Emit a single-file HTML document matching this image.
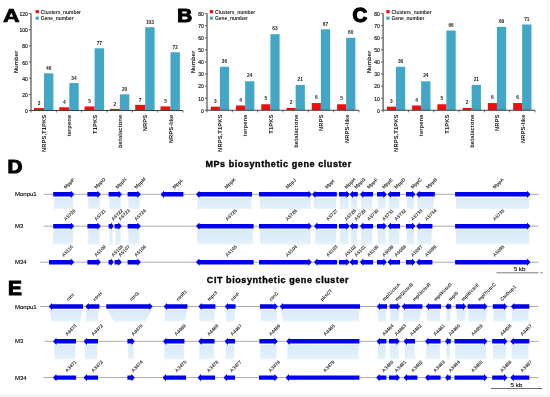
<!DOCTYPE html>
<html><head><meta charset="utf-8"><title>Figure</title>
<style>
html,body{margin:0;padding:0;background:#fff;}
svg{display:block;}
text{font-family:'Liberation Sans', Arial, sans-serif;}
.big{font-size:19.2px;font-weight:bold;fill:#000;stroke:#000;stroke-width:1.1px;}
.leg{font-size:4.9px;fill:#1a1a1a;font-weight:bold;}
.val{font-size:4.8px;fill:#1a1a1a;text-anchor:middle;font-weight:bold;}
.tick{font-size:5px;fill:#111;text-anchor:end;stroke:#111;stroke-width:0.15px;}
.cat{font-size:5.8px;fill:#1a1a1a;text-anchor:end;font-weight:bold;letter-spacing:0.1px;}
.ylab{font-size:6.0px;fill:#1a1a1a;text-anchor:middle;font-weight:bold;}
.row{font-size:6px;fill:#000;stroke:#000;stroke-width:0.12px;}
.gl{font-size:4.8px;fill:#2e2e2e;font-weight:bold;}
.title{font-size:9px;font-weight:bold;fill:#000;letter-spacing:0.58px;stroke:#000;stroke-width:0.35px;}
.kb{font-size:6.2px;fill:#111;text-anchor:middle;stroke:#111;stroke-width:0.15px;}
</style></head><body>
<svg width="550" height="397" viewBox="0 0 550 397">
<defs><linearGradient id="sg" x1="0" y1="0" x2="0" y2="1"><stop offset="0" stop-color="#d8ebf8"/><stop offset="0.75" stop-color="#e0effa"/><stop offset="1" stop-color="#e8f4fb"/></linearGradient></defs>
<rect width="550" height="397" fill="#fff"/>
<text transform="translate(2.9,22.3) scale(1.2,1)" class="big" style="stroke-width:0.7px">A</text>
<text transform="translate(177.2,21.8) scale(1.08,1)" class="big">B</text>
<text transform="translate(352.4,22.0) scale(0.98,1)" class="big" style="font-size:20.8px;stroke-width:1.3px">C</text>
<text transform="translate(7.6,173.2) scale(1.08,1)" class="big">D</text>
<text transform="translate(7.9,295.0) scale(1.04,1)" class="big" style="font-size:20px">E</text>
<rect x="35.6" y="10.1" width="3.3" height="3.1" fill="#f20d0d"/>
<rect x="35.6" y="16.6" width="3.3" height="3.1" fill="#42a6c7"/>
<text x="40.8" y="13.6" class="leg">Clusters_number</text>
<text x="40.8" y="19.9" class="leg">Gene_number</text>
<rect x="34.00" y="108.08" width="10" height="2.42" fill="#f20d0d"/>
<rect x="44.00" y="73.32" width="9.4" height="37.18" fill="#42a6c7"/>
<text x="39.00" y="104.78" class="val">3</text>
<text x="48.70" y="70.02" class="val">46</text>
<rect x="59.30" y="107.27" width="10" height="3.23" fill="#f20d0d"/>
<rect x="69.30" y="83.02" width="9.4" height="27.48" fill="#42a6c7"/>
<text x="64.30" y="103.97" class="val">4</text>
<text x="74.00" y="79.72" class="val">34</text>
<rect x="84.60" y="106.46" width="10" height="4.04" fill="#f20d0d"/>
<rect x="94.60" y="48.26" width="9.4" height="62.24" fill="#42a6c7"/>
<text x="89.60" y="103.16" class="val">5</text>
<text x="99.30" y="44.96" class="val">77</text>
<rect x="109.90" y="108.88" width="10" height="1.62" fill="#f20d0d"/>
<rect x="119.90" y="94.33" width="9.4" height="16.17" fill="#42a6c7"/>
<text x="114.90" y="105.58" class="val">2</text>
<text x="124.60" y="91.03" class="val">20</text>
<rect x="135.20" y="104.84" width="10" height="5.66" fill="#f20d0d"/>
<rect x="145.20" y="27.24" width="9.4" height="83.26" fill="#42a6c7"/>
<text x="140.20" y="101.54" class="val">7</text>
<text x="149.90" y="23.94" class="val">103</text>
<rect x="160.50" y="106.46" width="10" height="4.04" fill="#f20d0d"/>
<rect x="170.50" y="52.30" width="9.4" height="58.20" fill="#42a6c7"/>
<text x="165.50" y="103.16" class="val">5</text>
<text x="175.20" y="49.00" class="val">72</text>
<path d="M31 13.5 V110.5 H183" fill="none" stroke="#404040" stroke-width="1.1"/>
<path d="M29 110.50 H31" stroke="#404040" stroke-width="0.8"/>
<text x="27.8" y="113.00" class="tick">0</text>
<path d="M29 94.33 H31" stroke="#404040" stroke-width="0.8"/>
<text x="27.8" y="96.83" class="tick">20</text>
<path d="M29 78.17 H31" stroke="#404040" stroke-width="0.8"/>
<text x="27.8" y="80.67" class="tick">40</text>
<path d="M29 62.00 H31" stroke="#404040" stroke-width="0.8"/>
<text x="27.8" y="64.50" class="tick">60</text>
<path d="M29 45.83 H31" stroke="#404040" stroke-width="0.8"/>
<text x="27.8" y="48.33" class="tick">80</text>
<path d="M29 29.67 H31" stroke="#404040" stroke-width="0.8"/>
<text x="27.8" y="32.17" class="tick">100</text>
<path d="M29 13.50 H31" stroke="#404040" stroke-width="0.8"/>
<text x="27.8" y="16.00" class="tick">120</text>
<path d="M31.00 110.5 V112.5" stroke="#404040" stroke-width="0.8"/>
<path d="M56.33 110.5 V112.5" stroke="#404040" stroke-width="0.8"/>
<path d="M81.67 110.5 V112.5" stroke="#404040" stroke-width="0.8"/>
<path d="M107.00 110.5 V112.5" stroke="#404040" stroke-width="0.8"/>
<path d="M132.33 110.5 V112.5" stroke="#404040" stroke-width="0.8"/>
<path d="M157.67 110.5 V112.5" stroke="#404040" stroke-width="0.8"/>
<path d="M183.00 110.5 V112.5" stroke="#404040" stroke-width="0.8"/>
<text transform="translate(45.87,114.70) rotate(-90)" class="cat">NRPS,T1PKS</text>
<text transform="translate(71.20,114.70) rotate(-90)" class="cat">terpene</text>
<text transform="translate(96.53,114.70) rotate(-90)" class="cat">T1PKS</text>
<text transform="translate(121.87,114.70) rotate(-90)" class="cat">betalactone</text>
<text transform="translate(147.20,114.70) rotate(-90)" class="cat">NRPS</text>
<text transform="translate(172.53,114.70) rotate(-90)" class="cat">NRPS-like</text>
<text transform="translate(17.70,62) rotate(-90)" class="ylab">Number</text>
<rect x="209.79999999999998" y="10.1" width="3.3" height="3.1" fill="#f20d0d"/>
<rect x="209.79999999999998" y="16.6" width="3.3" height="3.1" fill="#42a6c7"/>
<text x="215.0" y="13.6" class="leg">Clusters_number</text>
<text x="215.0" y="19.9" class="leg">Gene_number</text>
<rect x="210.80" y="106.67" width="9.1" height="3.63" fill="#f20d0d"/>
<rect x="219.90" y="66.78" width="9.2" height="43.52" fill="#42a6c7"/>
<text x="215.35" y="102.87" class="val">3</text>
<text x="224.50" y="62.98" class="val">36</text>
<rect x="236.05" y="105.47" width="9.1" height="4.83" fill="#f20d0d"/>
<rect x="245.15" y="81.29" width="9.2" height="29.01" fill="#42a6c7"/>
<text x="240.60" y="101.67" class="val">4</text>
<text x="249.75" y="77.49" class="val">24</text>
<rect x="261.30" y="104.26" width="9.1" height="6.04" fill="#f20d0d"/>
<rect x="270.40" y="34.15" width="9.2" height="76.15" fill="#42a6c7"/>
<text x="265.85" y="100.46" class="val">5</text>
<text x="275.00" y="30.35" class="val">63</text>
<rect x="286.55" y="107.88" width="9.1" height="2.42" fill="#f20d0d"/>
<rect x="295.65" y="84.92" width="9.2" height="25.38" fill="#42a6c7"/>
<text x="291.10" y="104.08" class="val">2</text>
<text x="300.25" y="81.12" class="val">21</text>
<rect x="311.80" y="103.05" width="9.1" height="7.25" fill="#f20d0d"/>
<rect x="320.90" y="29.31" width="9.2" height="80.99" fill="#42a6c7"/>
<text x="316.35" y="99.25" class="val">6</text>
<text x="325.50" y="25.51" class="val">67</text>
<rect x="337.05" y="104.26" width="9.1" height="6.04" fill="#f20d0d"/>
<rect x="346.15" y="37.77" width="9.2" height="72.53" fill="#42a6c7"/>
<text x="341.60" y="100.46" class="val">5</text>
<text x="350.75" y="33.97" class="val">60</text>
<path d="M207 13.6 V110.3 H359" fill="none" stroke="#404040" stroke-width="1.1"/>
<path d="M205 110.30 H207" stroke="#404040" stroke-width="0.8"/>
<text x="203.8" y="112.60" class="tick">0</text>
<path d="M205 98.21 H207" stroke="#404040" stroke-width="0.8"/>
<text x="203.8" y="100.51" class="tick">10</text>
<path d="M205 86.12 H207" stroke="#404040" stroke-width="0.8"/>
<text x="203.8" y="88.42" class="tick">20</text>
<path d="M205 74.04 H207" stroke="#404040" stroke-width="0.8"/>
<text x="203.8" y="76.34" class="tick">30</text>
<path d="M205 61.95 H207" stroke="#404040" stroke-width="0.8"/>
<text x="203.8" y="64.25" class="tick">40</text>
<path d="M205 49.86 H207" stroke="#404040" stroke-width="0.8"/>
<text x="203.8" y="52.16" class="tick">50</text>
<path d="M205 37.77 H207" stroke="#404040" stroke-width="0.8"/>
<text x="203.8" y="40.07" class="tick">60</text>
<path d="M205 25.69 H207" stroke="#404040" stroke-width="0.8"/>
<text x="203.8" y="27.99" class="tick">70</text>
<path d="M205 13.60 H207" stroke="#404040" stroke-width="0.8"/>
<text x="203.8" y="15.90" class="tick">80</text>
<path d="M207.00 110.3 V112.3" stroke="#404040" stroke-width="0.8"/>
<path d="M232.33 110.3 V112.3" stroke="#404040" stroke-width="0.8"/>
<path d="M257.67 110.3 V112.3" stroke="#404040" stroke-width="0.8"/>
<path d="M283.00 110.3 V112.3" stroke="#404040" stroke-width="0.8"/>
<path d="M308.33 110.3 V112.3" stroke="#404040" stroke-width="0.8"/>
<path d="M333.67 110.3 V112.3" stroke="#404040" stroke-width="0.8"/>
<path d="M359.00 110.3 V112.3" stroke="#404040" stroke-width="0.8"/>
<text transform="translate(221.87,114.50) rotate(-90)" class="cat">NRPS,T1PKS</text>
<text transform="translate(247.20,114.50) rotate(-90)" class="cat">terpene</text>
<text transform="translate(272.53,114.50) rotate(-90)" class="cat">T1PKS</text>
<text transform="translate(297.87,114.50) rotate(-90)" class="cat">betalactone</text>
<text transform="translate(323.20,114.50) rotate(-90)" class="cat">NRPS</text>
<text transform="translate(348.53,114.50) rotate(-90)" class="cat">NRPS-like</text>
<text transform="translate(195.30,62) rotate(-90)" class="ylab">Number</text>
<rect x="386.3" y="10.1" width="3.3" height="3.1" fill="#f20d0d"/>
<rect x="386.3" y="16.6" width="3.3" height="3.1" fill="#42a6c7"/>
<text x="391.5" y="13.6" class="leg">Clusters_number</text>
<text x="391.5" y="19.9" class="leg">Gene_number</text>
<rect x="386.90" y="106.67" width="9.1" height="3.63" fill="#f20d0d"/>
<rect x="395.90" y="66.78" width="9.3" height="43.52" fill="#42a6c7"/>
<text x="391.45" y="102.87" class="val">3</text>
<text x="400.55" y="62.98" class="val">36</text>
<rect x="412.15" y="105.47" width="9.1" height="4.83" fill="#f20d0d"/>
<rect x="421.15" y="81.29" width="9.3" height="29.01" fill="#42a6c7"/>
<text x="416.70" y="101.67" class="val">4</text>
<text x="425.80" y="77.49" class="val">24</text>
<rect x="437.40" y="104.26" width="9.1" height="6.04" fill="#f20d0d"/>
<rect x="446.40" y="30.52" width="9.3" height="79.78" fill="#42a6c7"/>
<text x="441.95" y="100.46" class="val">5</text>
<text x="451.05" y="26.72" class="val">66</text>
<rect x="462.65" y="107.88" width="9.1" height="2.42" fill="#f20d0d"/>
<rect x="471.65" y="84.92" width="9.3" height="25.38" fill="#42a6c7"/>
<text x="467.20" y="104.08" class="val">2</text>
<text x="476.30" y="81.12" class="val">21</text>
<rect x="487.90" y="103.05" width="9.1" height="7.25" fill="#f20d0d"/>
<rect x="496.90" y="26.90" width="9.3" height="83.40" fill="#42a6c7"/>
<text x="492.45" y="99.25" class="val">6</text>
<text x="501.55" y="23.10" class="val">69</text>
<rect x="513.15" y="103.05" width="9.1" height="7.25" fill="#f20d0d"/>
<rect x="522.15" y="24.48" width="9.3" height="85.82" fill="#42a6c7"/>
<text x="517.70" y="99.25" class="val">6</text>
<text x="526.80" y="20.68" class="val">71</text>
<path d="M383.1 13.6 V110.3 H535" fill="none" stroke="#404040" stroke-width="1.1"/>
<path d="M381.1 110.30 H383.1" stroke="#404040" stroke-width="0.8"/>
<text x="379.90000000000003" y="112.60" class="tick">0</text>
<path d="M381.1 98.21 H383.1" stroke="#404040" stroke-width="0.8"/>
<text x="379.90000000000003" y="100.51" class="tick">10</text>
<path d="M381.1 86.12 H383.1" stroke="#404040" stroke-width="0.8"/>
<text x="379.90000000000003" y="88.42" class="tick">20</text>
<path d="M381.1 74.04 H383.1" stroke="#404040" stroke-width="0.8"/>
<text x="379.90000000000003" y="76.34" class="tick">30</text>
<path d="M381.1 61.95 H383.1" stroke="#404040" stroke-width="0.8"/>
<text x="379.90000000000003" y="64.25" class="tick">40</text>
<path d="M381.1 49.86 H383.1" stroke="#404040" stroke-width="0.8"/>
<text x="379.90000000000003" y="52.16" class="tick">50</text>
<path d="M381.1 37.77 H383.1" stroke="#404040" stroke-width="0.8"/>
<text x="379.90000000000003" y="40.07" class="tick">60</text>
<path d="M381.1 25.69 H383.1" stroke="#404040" stroke-width="0.8"/>
<text x="379.90000000000003" y="27.99" class="tick">70</text>
<path d="M381.1 13.60 H383.1" stroke="#404040" stroke-width="0.8"/>
<text x="379.90000000000003" y="15.90" class="tick">80</text>
<path d="M383.10 110.3 V112.3" stroke="#404040" stroke-width="0.8"/>
<path d="M408.42 110.3 V112.3" stroke="#404040" stroke-width="0.8"/>
<path d="M433.73 110.3 V112.3" stroke="#404040" stroke-width="0.8"/>
<path d="M459.05 110.3 V112.3" stroke="#404040" stroke-width="0.8"/>
<path d="M484.37 110.3 V112.3" stroke="#404040" stroke-width="0.8"/>
<path d="M509.68 110.3 V112.3" stroke="#404040" stroke-width="0.8"/>
<path d="M535.00 110.3 V112.3" stroke="#404040" stroke-width="0.8"/>
<text transform="translate(397.96,114.50) rotate(-90)" class="cat">NRPS,T1PKS</text>
<text transform="translate(423.28,114.50) rotate(-90)" class="cat">terpene</text>
<text transform="translate(448.59,114.50) rotate(-90)" class="cat">T1PKS</text>
<text transform="translate(473.91,114.50) rotate(-90)" class="cat">betalactone</text>
<text transform="translate(499.22,114.50) rotate(-90)" class="cat">NRPS</text>
<text transform="translate(524.54,114.50) rotate(-90)" class="cat">NRPS-like</text>
<text transform="translate(371.00,62) rotate(-90)" class="ylab">Number</text>
<polygon points="109.40,197.70 120.80,197.70 120.73,209.10 109.40,209.10" fill="url(#sg)"/>
<polygon points="54.00,197.70 73.00,197.70 73.00,209.10 54.00,209.10" fill="url(#sg)"/>
<polygon points="88.20,197.70 99.60,197.70 99.60,209.10 88.20,209.10" fill="url(#sg)"/>
<polygon points="128.40,197.70 139.60,197.70 139.60,209.10 128.40,209.10" fill="url(#sg)"/>
<polygon points="197.20,197.70 251.20,197.70 251.78,209.10 197.20,209.10" fill="url(#sg)"/>
<polygon points="259.80,197.70 310.60,197.70 310.60,209.10 259.80,209.10" fill="url(#sg)"/>
<polygon points="313.20,197.70 336.00,197.70 336.07,209.10 313.92,209.10" fill="url(#sg)"/>
<polygon points="339.80,197.70 348.60,197.70 348.60,209.10 339.80,209.10" fill="url(#sg)"/>
<polygon points="350.80,197.70 357.00,197.70 357.00,209.10 350.80,209.10" fill="url(#sg)"/>
<polygon points="361.10,197.70 372.20,197.70 372.20,209.10 361.10,209.10" fill="url(#sg)"/>
<polygon points="377.80,197.70 385.60,197.70 385.60,209.10 377.80,209.10" fill="url(#sg)"/>
<polygon points="388.80,197.70 399.20,197.70 399.20,209.10 388.80,209.10" fill="url(#sg)"/>
<polygon points="406.80,197.70 414.20,197.70 414.20,209.10 406.80,209.10" fill="url(#sg)"/>
<polygon points="417.40,197.70 434.00,197.70 433.14,209.10 417.40,209.10" fill="url(#sg)"/>
<polygon points="455.90,197.70 529.20,197.70 529.20,209.10 455.90,209.10" fill="url(#sg)"/>
<polygon points="54.00,229.60 73.00,229.60 73.00,244.60 52.24,244.60" fill="url(#sg)"/>
<polygon points="88.20,229.60 99.60,229.60 99.60,244.60 88.20,244.60" fill="url(#sg)"/>
<polygon points="109.40,229.60 112.60,229.60 112.60,244.60 109.40,244.60" fill="url(#sg)"/>
<polygon points="115.40,229.60 120.60,229.60 120.60,244.60 115.40,244.60" fill="url(#sg)"/>
<polygon points="128.40,229.60 139.60,229.60 139.60,244.60 128.40,244.60" fill="url(#sg)"/>
<polygon points="197.20,229.60 252.80,229.60 252.80,244.60 197.20,244.60" fill="url(#sg)"/>
<polygon points="259.80,229.60 310.60,229.60 310.60,244.60 259.80,244.60" fill="url(#sg)"/>
<polygon points="315.20,229.60 336.20,229.60 336.20,244.60 315.20,244.60" fill="url(#sg)"/>
<polygon points="339.80,229.60 348.60,229.60 348.60,244.60 339.80,244.60" fill="url(#sg)"/>
<polygon points="350.80,229.60 357.00,229.60 357.00,244.60 350.80,244.60" fill="url(#sg)"/>
<polygon points="361.10,229.60 372.20,229.60 372.20,244.60 361.10,244.60" fill="url(#sg)"/>
<polygon points="377.80,229.60 385.60,229.60 385.60,244.60 377.80,244.60" fill="url(#sg)"/>
<polygon points="388.80,229.60 399.20,229.60 399.20,244.60 388.80,244.60" fill="url(#sg)"/>
<polygon points="406.80,229.60 414.20,229.60 414.20,244.60 406.80,244.60" fill="url(#sg)"/>
<polygon points="417.40,229.60 431.60,229.60 431.60,244.60 417.40,244.60" fill="url(#sg)"/>
<polygon points="455.90,229.60 529.20,229.60 529.20,244.60 455.90,244.60" fill="url(#sg)"/>
<path d="M43.8 194.3 H538.6" stroke="#a0a0a0" stroke-width="0.9"/>
<text x="15" y="196.30" class="row">Monpu1</text>
<polygon points="53.20,192.10 70.80,192.10 70.80,190.70 73.80,193.70 73.80,194.90 70.80,197.90 70.80,196.50 53.20,196.50" fill="#0000f0"/>
<text transform="translate(65.80,189.10) rotate(-45)" class="gl">MppP</text>
<polygon points="87.40,192.10 97.40,192.10 97.40,190.70 100.40,193.70 100.40,194.90 97.40,197.90 97.40,196.50 87.40,196.50" fill="#0000f0"/>
<text transform="translate(96.20,189.10) rotate(-45)" class="gl">MppO</text>
<polygon points="108.60,192.10 118.60,192.10 118.60,190.70 121.60,193.70 121.60,194.90 118.60,197.90 118.60,196.50 108.60,196.50" fill="#0000f0"/>
<text transform="translate(117.40,189.10) rotate(-45)" class="gl">MppN</text>
<polygon points="127.60,192.10 137.40,192.10 137.40,190.70 140.40,193.70 140.40,194.90 137.40,197.90 137.40,196.50 127.60,196.50" fill="#0000f0"/>
<text transform="translate(136.30,189.10) rotate(-45)" class="gl">MppM</text>
<polygon points="183.40,192.10 164.00,192.10 164.00,190.70 161.00,193.70 161.00,194.90 164.00,197.90 164.00,196.50 183.40,196.50" fill="#0000f0"/>
<text transform="translate(174.50,189.10) rotate(-45)" class="gl">MppL</text>
<polygon points="252.00,192.10 199.40,192.10 199.40,190.70 196.40,193.70 196.40,194.90 199.40,197.90 199.40,196.50 252.00,196.50" fill="#0000f0"/>
<text transform="translate(226.50,189.10) rotate(-45)" class="gl">MppK</text>
<polygon points="259.00,192.10 308.40,192.10 308.40,190.70 311.40,193.70 311.40,194.90 308.40,197.90 308.40,196.50 259.00,196.50" fill="#0000f0"/>
<text transform="translate(287.50,189.10) rotate(-45)" class="gl">MppJ</text>
<polygon points="336.80,192.10 315.40,192.10 315.40,190.70 312.40,193.70 312.40,194.90 315.40,197.90 315.40,196.50 336.80,196.50" fill="#0000f0"/>
<text transform="translate(326.90,189.10) rotate(-45)" class="gl">MppI</text>
<polygon points="339.00,192.10 346.40,192.10 346.40,190.70 349.40,193.70 349.40,194.90 346.40,197.90 346.40,196.50 339.00,196.50" fill="#0000f0"/>
<text transform="translate(346.50,189.10) rotate(-45)" class="gl">MppH</text>
<polygon points="357.80,192.10 353.00,192.10 353.00,190.70 350.00,193.70 350.00,194.90 353.00,197.90 353.00,196.50 357.80,196.50" fill="#0000f0"/>
<text transform="translate(356.20,189.10) rotate(-45)" class="gl">MppG</text>
<polygon points="373.00,192.10 363.30,192.10 363.30,190.70 360.30,193.70 360.30,194.90 363.30,197.90 363.30,196.50 373.00,196.50" fill="#0000f0"/>
<text transform="translate(368.95,189.10) rotate(-45)" class="gl">MppF</text>
<polygon points="377.00,192.10 383.40,192.10 383.40,190.70 386.40,193.70 386.40,194.90 383.40,197.90 383.40,196.50 377.00,196.50" fill="#0000f0"/>
<text transform="translate(384.00,189.10) rotate(-45)" class="gl">MppE</text>
<polygon points="400.00,192.10 391.00,192.10 391.00,190.70 388.00,193.70 388.00,194.90 391.00,197.90 391.00,196.50 400.00,196.50" fill="#0000f0"/>
<text transform="translate(396.30,189.10) rotate(-45)" class="gl">MppD</text>
<polygon points="406.00,192.10 412.00,192.10 412.00,190.70 415.00,193.70 415.00,194.90 412.00,197.90 412.00,196.50 406.00,196.50" fill="#0000f0"/>
<text transform="translate(412.80,189.10) rotate(-45)" class="gl">MppC</text>
<polygon points="434.80,192.10 419.60,192.10 419.60,190.70 416.60,193.70 416.60,194.90 419.60,197.90 419.60,196.50 434.80,196.50" fill="#0000f0"/>
<text transform="translate(428.00,189.10) rotate(-45)" class="gl">MppB</text>
<polygon points="455.10,192.10 527.00,192.10 527.00,190.70 530.00,193.70 530.00,194.90 527.00,197.90 527.00,196.50 455.10,196.50" fill="#0000f0"/>
<text transform="translate(494.85,189.10) rotate(-45)" class="gl">MppA</text>
<path d="M43.6 226.2 H538.6" stroke="#a0a0a0" stroke-width="0.9"/>
<text x="15" y="228.20" class="row">M3</text>
<polygon points="53.20,224.00 70.80,224.00 70.80,222.60 73.80,225.60 73.80,226.80 70.80,229.80 70.80,228.40 53.20,228.40" fill="#0000f0"/>
<text transform="translate(65.80,221.00) rotate(-45)" class="gl">A5720</text>
<polygon points="87.40,224.00 97.40,224.00 97.40,222.60 100.40,225.60 100.40,226.80 97.40,229.80 97.40,228.40 87.40,228.40" fill="#0000f0"/>
<text transform="translate(96.20,221.00) rotate(-45)" class="gl">A5721</text>
<polygon points="108.60,224.00 111.00,224.00 111.00,222.60 113.40,225.60 113.40,226.80 111.00,229.80 111.00,228.40 108.60,228.40" fill="#0000f0"/>
<text transform="translate(113.30,221.00) rotate(-45)" class="gl">A5722</text>
<polygon points="114.60,224.00 118.40,224.00 118.40,222.60 121.40,225.60 121.40,226.80 118.40,229.80 118.40,228.40 114.60,228.40" fill="#0000f0"/>
<text transform="translate(120.30,221.00) rotate(-45)" class="gl">A5723</text>
<polygon points="127.60,224.00 137.40,224.00 137.40,222.60 140.40,225.60 140.40,226.80 137.40,229.80 137.40,228.40 127.60,228.40" fill="#0000f0"/>
<text transform="translate(136.30,221.00) rotate(-45)" class="gl">A5724</text>
<polygon points="253.60,224.00 199.40,224.00 199.40,222.60 196.40,225.60 196.40,226.80 199.40,229.80 199.40,228.40 253.60,228.40" fill="#0000f0"/>
<text transform="translate(227.30,221.00) rotate(-45)" class="gl">A5725</text>
<polygon points="259.00,224.00 308.40,224.00 308.40,222.60 311.40,225.60 311.40,226.80 308.40,229.80 308.40,228.40 259.00,228.40" fill="#0000f0"/>
<text transform="translate(287.50,221.00) rotate(-45)" class="gl">A5726</text>
<polygon points="337.00,224.00 317.40,224.00 317.40,222.60 314.40,225.60 314.40,226.80 317.40,229.80 317.40,228.40 337.00,228.40" fill="#0000f0"/>
<text transform="translate(328.00,221.00) rotate(-45)" class="gl">A5727</text>
<polygon points="339.00,224.00 346.40,224.00 346.40,222.60 349.40,225.60 349.40,226.80 346.40,229.80 346.40,228.40 339.00,228.40" fill="#0000f0"/>
<text transform="translate(346.50,221.00) rotate(-45)" class="gl">A5728</text>
<polygon points="357.80,224.00 353.00,224.00 353.00,222.60 350.00,225.60 350.00,226.80 353.00,229.80 353.00,228.40 357.80,228.40" fill="#0000f0"/>
<text transform="translate(356.20,221.00) rotate(-45)" class="gl">A5729</text>
<polygon points="373.00,224.00 363.30,224.00 363.30,222.60 360.30,225.60 360.30,226.80 363.30,229.80 363.30,228.40 373.00,228.40" fill="#0000f0"/>
<text transform="translate(368.95,221.00) rotate(-45)" class="gl">A5730</text>
<polygon points="377.00,224.00 383.40,224.00 383.40,222.60 386.40,225.60 386.40,226.80 383.40,229.80 383.40,228.40 377.00,228.40" fill="#0000f0"/>
<text transform="translate(384.00,221.00) rotate(-45)" class="gl">A5731</text>
<polygon points="400.00,224.00 391.00,224.00 391.00,222.60 388.00,225.60 388.00,226.80 391.00,229.80 391.00,228.40 400.00,228.40" fill="#0000f0"/>
<text transform="translate(396.30,221.00) rotate(-45)" class="gl">A5732</text>
<polygon points="406.00,224.00 412.00,224.00 412.00,222.60 415.00,225.60 415.00,226.80 412.00,229.80 412.00,228.40 406.00,228.40" fill="#0000f0"/>
<text transform="translate(412.80,221.00) rotate(-45)" class="gl">A5733</text>
<polygon points="432.40,224.00 419.60,224.00 419.60,222.60 416.60,225.60 416.60,226.80 419.60,229.80 419.60,228.40 432.40,228.40" fill="#0000f0"/>
<text transform="translate(426.80,221.00) rotate(-45)" class="gl">A5734</text>
<polygon points="455.10,224.00 527.00,224.00 527.00,222.60 530.00,225.60 530.00,226.80 527.00,229.80 527.00,228.40 455.10,228.40" fill="#0000f0"/>
<text transform="translate(494.85,221.00) rotate(-45)" class="gl">A5735</text>
<path d="M40 262.2 H538.6" stroke="#a0a0a0" stroke-width="0.9"/>
<text x="15" y="264.20" class="row">M34</text>
<polygon points="49.00,260.00 70.80,260.00 70.80,258.60 73.80,261.60 73.80,262.80 70.80,265.80 70.80,264.40 49.00,264.40" fill="#0000f0"/>
<text transform="translate(63.70,257.00) rotate(-45)" class="gl">A5110</text>
<polygon points="87.40,260.00 97.40,260.00 97.40,258.60 100.40,261.60 100.40,262.80 97.40,265.80 97.40,264.40 87.40,264.40" fill="#0000f0"/>
<text transform="translate(96.20,257.00) rotate(-45)" class="gl">A5109</text>
<polygon points="108.60,260.00 111.00,260.00 111.00,258.60 113.40,261.60 113.40,262.80 111.00,265.80 111.00,264.40 108.60,264.40" fill="#0000f0"/>
<text transform="translate(113.30,257.00) rotate(-45)" class="gl">A5108</text>
<polygon points="114.60,260.00 118.40,260.00 118.40,258.60 121.40,261.60 121.40,262.80 118.40,265.80 118.40,264.40 114.60,264.40" fill="#0000f0"/>
<text transform="translate(120.30,257.00) rotate(-45)" class="gl">A5107</text>
<polygon points="127.60,260.00 137.40,260.00 137.40,258.60 140.40,261.60 140.40,262.80 137.40,265.80 137.40,264.40 127.60,264.40" fill="#0000f0"/>
<text transform="translate(136.30,257.00) rotate(-45)" class="gl">A5106</text>
<polygon points="253.60,260.00 199.40,260.00 199.40,258.60 196.40,261.60 196.40,262.80 199.40,265.80 199.40,264.40 253.60,264.40" fill="#0000f0"/>
<text transform="translate(227.30,257.00) rotate(-45)" class="gl">A5105</text>
<polygon points="259.00,260.00 308.40,260.00 308.40,258.60 311.40,261.60 311.40,262.80 308.40,265.80 308.40,264.40 259.00,264.40" fill="#0000f0"/>
<text transform="translate(287.50,257.00) rotate(-45)" class="gl">A5104</text>
<polygon points="337.00,260.00 317.40,260.00 317.40,258.60 314.40,261.60 314.40,262.80 317.40,265.80 317.40,264.40 337.00,264.40" fill="#0000f0"/>
<text transform="translate(328.00,257.00) rotate(-45)" class="gl">A5103</text>
<polygon points="339.00,260.00 346.40,260.00 346.40,258.60 349.40,261.60 349.40,262.80 346.40,265.80 346.40,264.40 339.00,264.40" fill="#0000f0"/>
<text transform="translate(346.50,257.00) rotate(-45)" class="gl">A5102</text>
<polygon points="357.80,260.00 353.00,260.00 353.00,258.60 350.00,261.60 350.00,262.80 353.00,265.80 353.00,264.40 357.80,264.40" fill="#0000f0"/>
<text transform="translate(356.20,257.00) rotate(-45)" class="gl">A5101</text>
<polygon points="373.00,260.00 363.30,260.00 363.30,258.60 360.30,261.60 360.30,262.80 363.30,265.80 363.30,264.40 373.00,264.40" fill="#0000f0"/>
<text transform="translate(368.95,257.00) rotate(-45)" class="gl">A5100</text>
<polygon points="377.00,260.00 383.40,260.00 383.40,258.60 386.40,261.60 386.40,262.80 383.40,265.80 383.40,264.40 377.00,264.40" fill="#0000f0"/>
<text transform="translate(384.00,257.00) rotate(-45)" class="gl">A5099</text>
<polygon points="400.00,260.00 391.00,260.00 391.00,258.60 388.00,261.60 388.00,262.80 391.00,265.80 391.00,264.40 400.00,264.40" fill="#0000f0"/>
<text transform="translate(396.30,257.00) rotate(-45)" class="gl">A5098</text>
<polygon points="406.00,260.00 412.00,260.00 412.00,258.60 415.00,261.60 415.00,262.80 412.00,265.80 412.00,264.40 406.00,264.40" fill="#0000f0"/>
<text transform="translate(412.80,257.00) rotate(-45)" class="gl">A5097</text>
<polygon points="432.40,260.00 419.60,260.00 419.60,258.60 416.60,261.60 416.60,262.80 419.60,265.80 419.60,264.40 432.40,264.40" fill="#0000f0"/>
<text transform="translate(426.80,257.00) rotate(-45)" class="gl">A5096</text>
<polygon points="455.10,260.00 527.00,260.00 527.00,258.60 530.00,261.60 530.00,262.80 527.00,265.80 527.00,264.40 455.10,264.40" fill="#0000f0"/>
<text transform="translate(494.85,257.00) rotate(-45)" class="gl">A5095</text>
<polygon points="49.80,309.90 82.20,309.90 79.83,321.60 51.29,321.60" fill="url(#sg)"/>
<polygon points="86.40,309.90 98.60,309.90 98.13,321.60 85.86,321.60" fill="url(#sg)"/>
<polygon points="107.10,309.90 151.50,309.90 145.45,321.60 114.23,321.60" fill="url(#sg)"/>
<polygon points="164.80,309.90 186.60,309.90 185.59,321.60 164.60,321.60" fill="url(#sg)"/>
<polygon points="199.40,309.90 214.60,309.90 214.33,321.60 199.40,321.60" fill="url(#sg)"/>
<polygon points="225.80,309.90 234.80,309.90 234.60,321.60 225.80,321.60" fill="url(#sg)"/>
<polygon points="260.80,309.90 276.80,309.90 276.73,321.60 260.60,321.60" fill="url(#sg)"/>
<polygon points="280.80,309.90 359.20,309.90 359.00,321.60 283.03,321.60" fill="url(#sg)"/>
<polygon points="377.80,309.90 386.20,309.90 386.00,321.60 377.80,321.60" fill="url(#sg)"/>
<polygon points="390.40,309.90 399.20,309.90 399.00,321.60 390.20,321.60" fill="url(#sg)"/>
<polygon points="402.80,309.90 421.60,309.90 419.10,321.60 403.48,321.60" fill="url(#sg)"/>
<polygon points="426.80,309.90 440.20,309.90 440.06,321.60 426.60,321.60" fill="url(#sg)"/>
<polygon points="446.30,309.90 450.30,309.90 450.20,321.60 446.27,321.60" fill="url(#sg)"/>
<polygon points="456.60,309.90 465.20,309.90 465.20,321.60 456.60,321.60" fill="url(#sg)"/>
<polygon points="468.40,309.90 486.40,309.90 486.40,321.60 468.40,321.60" fill="url(#sg)"/>
<polygon points="493.60,309.90 506.20,309.90 506.20,321.60 493.40,321.60" fill="url(#sg)"/>
<polygon points="512.00,309.90 528.50,309.90 528.50,321.60 511.83,321.60" fill="url(#sg)"/>
<polygon points="54.20,344.70 75.20,344.70 75.20,359.20 54.20,359.20" fill="url(#sg)"/>
<polygon points="84.80,344.70 97.20,344.70 97.20,359.20 84.80,359.20" fill="url(#sg)"/>
<polygon points="128.20,344.70 133.60,344.70 133.60,359.20 128.20,359.20" fill="url(#sg)"/>
<polygon points="164.20,344.70 183.60,344.70 184.24,359.20 164.04,359.20" fill="url(#sg)"/>
<polygon points="199.40,344.70 213.80,344.70 213.96,359.20 199.16,359.20" fill="url(#sg)"/>
<polygon points="225.80,344.70 234.20,344.70 234.20,359.20 225.40,359.20" fill="url(#sg)"/>
<polygon points="260.20,344.70 276.60,344.70 276.60,359.20 260.04,359.20" fill="url(#sg)"/>
<polygon points="287.40,344.70 358.60,344.70 358.60,359.20 287.16,359.20" fill="url(#sg)"/>
<polygon points="377.80,344.70 385.60,344.70 385.60,359.20 377.64,359.20" fill="url(#sg)"/>
<polygon points="389.80,344.70 398.60,344.70 398.68,359.20 389.80,359.20" fill="url(#sg)"/>
<polygon points="404.80,344.70 414.20,344.70 415.16,359.20 404.80,359.20" fill="url(#sg)"/>
<polygon points="426.20,344.70 439.80,344.70 439.80,359.20 426.20,359.20" fill="url(#sg)"/>
<polygon points="446.20,344.70 450.00,344.70 450.00,359.20 446.20,359.20" fill="url(#sg)"/>
<polygon points="455.30,344.70 486.20,344.70 486.20,359.20 455.30,359.20" fill="url(#sg)"/>
<polygon points="493.00,344.70 506.20,344.70 506.20,359.20 493.00,359.20" fill="url(#sg)"/>
<polygon points="511.50,344.70 528.50,344.70 528.50,359.20 511.50,359.20" fill="url(#sg)"/>
<path d="M40.2 306.5 H538.4" stroke="#a0a0a0" stroke-width="0.9"/>
<text x="15" y="308.50" class="row">Monpu1</text>
<polygon points="83.00,304.30 52.00,304.30 52.00,302.90 49.00,305.90 49.00,307.10 52.00,310.10 52.00,308.70 83.00,308.70" fill="#0000f0"/>
<text transform="translate(68.30,301.30) rotate(-45)" class="gl">ctnI</text>
<polygon points="99.40,304.30 88.60,304.30 88.60,302.90 85.60,305.90 85.60,307.10 88.60,310.10 88.60,308.70 99.40,308.70" fill="#0000f0"/>
<text transform="translate(94.80,301.30) rotate(-45)" class="gl">ctnH</text>
<polygon points="106.30,304.30 149.30,304.30 149.30,302.90 152.30,305.90 152.30,307.10 149.30,310.10 149.30,308.70 106.30,308.70" fill="#0000f0"/>
<text transform="translate(131.60,301.30) rotate(-45)" class="gl">ctnG</text>
<polygon points="187.40,304.30 167.00,304.30 167.00,302.90 164.00,305.90 164.00,307.10 167.00,310.10 167.00,308.70 187.40,308.70" fill="#0000f0"/>
<text transform="translate(178.00,301.30) rotate(-45)" class="gl">ctnR1</text>
<polygon points="215.40,304.30 201.60,304.30 201.60,302.90 198.60,305.90 198.60,307.10 201.60,310.10 201.60,308.70 215.40,308.70" fill="#0000f0"/>
<text transform="translate(209.30,301.30) rotate(-45)" class="gl">mpr3</text>
<polygon points="235.60,304.30 228.00,304.30 228.00,302.90 225.00,305.90 225.00,307.10 228.00,310.10 228.00,308.70 235.60,308.70" fill="#0000f0"/>
<text transform="translate(232.60,301.30) rotate(-45)" class="gl">ctnF</text>
<polygon points="260.00,304.30 274.60,304.30 274.60,302.90 277.60,305.90 277.60,307.10 274.60,310.10 274.60,308.70 260.00,308.70" fill="#0000f0"/>
<text transform="translate(271.10,301.30) rotate(-45)" class="gl">ctnC</text>
<polygon points="360.00,304.30 283.00,304.30 283.00,302.90 280.00,305.90 280.00,307.10 283.00,310.10 283.00,308.70 360.00,308.70" fill="#0000f0"/>
<text transform="translate(322.30,301.30) rotate(-45)" class="gl">pksCT</text>
<polygon points="387.00,304.30 380.00,304.30 380.00,302.90 377.00,305.90 377.00,307.10 380.00,310.10 380.00,308.70 387.00,308.70" fill="#0000f0"/>
<text transform="translate(384.30,301.30) rotate(-45)" class="gl">mpl1/ctnA</text>
<polygon points="389.60,304.30 397.00,304.30 397.00,302.90 400.00,305.90 400.00,307.10 397.00,310.10 397.00,308.70 389.60,308.70" fill="#0000f0"/>
<text transform="translate(397.10,301.30) rotate(-45)" class="gl">mpl2/ctnB</text>
<polygon points="422.40,304.30 405.00,304.30 405.00,302.90 402.00,305.90 402.00,307.10 405.00,310.10 405.00,308.70 422.40,308.70" fill="#0000f0"/>
<text transform="translate(414.50,301.30) rotate(-45)" class="gl">mpl3/ctnR</text>
<polygon points="441.00,304.30 429.00,304.30 429.00,302.90 426.00,305.90 426.00,307.10 429.00,310.10 429.00,308.70 441.00,308.70" fill="#0000f0"/>
<text transform="translate(435.80,301.30) rotate(-45)" class="gl">mpl4/ctnD</text>
<polygon points="451.10,304.30 448.30,304.30 448.30,302.90 445.50,305.90 445.50,307.10 448.30,310.10 448.30,308.70 451.10,308.70" fill="#0000f0"/>
<text transform="translate(450.60,301.30) rotate(-45)" class="gl">mpl5</text>
<polygon points="455.80,304.30 463.00,304.30 463.00,302.90 466.00,305.90 466.00,307.10 463.00,310.10 463.00,308.70 455.80,308.70" fill="#0000f0"/>
<text transform="translate(463.20,301.30) rotate(-45)" class="gl">mpl6/ctnE</text>
<polygon points="467.60,304.30 484.20,304.30 484.20,302.90 487.20,305.90 487.20,307.10 484.20,310.10 484.20,308.70 467.60,308.70" fill="#0000f0"/>
<text transform="translate(479.70,301.30) rotate(-45)" class="gl">mpl7/ctnC</text>
<polygon points="492.80,304.30 504.00,304.30 504.00,302.90 507.00,305.90 507.00,307.10 504.00,310.10 504.00,308.70 492.80,308.70" fill="#0000f0"/>
<text transform="translate(502.20,301.30) rotate(-45)" class="gl">CtnDup1</text>
<polygon points="529.30,304.30 514.20,304.30 514.20,302.90 511.20,305.90 511.20,307.10 514.20,310.10 514.20,308.70 529.30,308.70" fill="#0000f0"/>
<path d="M44.4 341.3 H538.4" stroke="#a0a0a0" stroke-width="0.9"/>
<text x="15" y="343.30" class="row">M3</text>
<polygon points="76.00,339.10 56.40,339.10 56.40,337.70 53.40,340.70 53.40,341.90 56.40,344.90 56.40,343.50 76.00,343.50" fill="#0000f0"/>
<text transform="translate(67.00,336.10) rotate(-45)" class="gl">A4473</text>
<polygon points="98.00,339.10 87.00,339.10 87.00,337.70 84.00,340.70 84.00,341.90 87.00,344.90 87.00,343.50 98.00,343.50" fill="#0000f0"/>
<text transform="translate(93.30,336.10) rotate(-45)" class="gl">A4472</text>
<polygon points="127.40,339.10 131.40,339.10 131.40,337.70 134.40,340.70 134.40,341.90 131.40,344.90 131.40,343.50 127.40,343.50" fill="#0000f0"/>
<text transform="translate(133.20,336.10) rotate(-45)" class="gl">A4470</text>
<polygon points="184.40,339.10 166.40,339.10 166.40,337.70 163.40,340.70 163.40,341.90 166.40,344.90 166.40,343.50 184.40,343.50" fill="#0000f0"/>
<text transform="translate(176.20,336.10) rotate(-45)" class="gl">A4469</text>
<polygon points="214.60,339.10 201.60,339.10 201.60,337.70 198.60,340.70 198.60,341.90 201.60,344.90 201.60,343.50 214.60,343.50" fill="#0000f0"/>
<text transform="translate(208.90,336.10) rotate(-45)" class="gl">A4468</text>
<polygon points="235.00,339.10 228.00,339.10 228.00,337.70 225.00,340.70 225.00,341.90 228.00,344.90 228.00,343.50 235.00,343.50" fill="#0000f0"/>
<text transform="translate(232.30,336.10) rotate(-45)" class="gl">A4467</text>
<polygon points="259.40,339.10 274.40,339.10 274.40,337.70 277.40,340.70 277.40,341.90 274.40,344.90 274.40,343.50 259.40,343.50" fill="#0000f0"/>
<text transform="translate(270.70,336.10) rotate(-45)" class="gl">A4466</text>
<polygon points="359.40,339.10 289.60,339.10 289.60,337.70 286.60,340.70 286.60,341.90 289.60,344.90 289.60,343.50 359.40,343.50" fill="#0000f0"/>
<text transform="translate(325.30,336.10) rotate(-45)" class="gl">A4465</text>
<polygon points="386.40,339.10 380.00,339.10 380.00,337.70 377.00,340.70 377.00,341.90 380.00,344.90 380.00,343.50 386.40,343.50" fill="#0000f0"/>
<text transform="translate(384.00,336.10) rotate(-45)" class="gl">A4464</text>
<polygon points="389.00,339.10 396.40,339.10 396.40,337.70 399.40,340.70 399.40,341.90 396.40,344.90 396.40,343.50 389.00,343.50" fill="#0000f0"/>
<text transform="translate(396.50,336.10) rotate(-45)" class="gl">A4463</text>
<polygon points="415.00,339.10 407.00,339.10 407.00,337.70 404.00,340.70 404.00,341.90 407.00,344.90 407.00,343.50 415.00,343.50" fill="#0000f0"/>
<text transform="translate(411.80,336.10) rotate(-45)" class="gl">A4462</text>
<polygon points="440.60,339.10 428.40,339.10 428.40,337.70 425.40,340.70 425.40,341.90 428.40,344.90 428.40,343.50 440.60,343.50" fill="#0000f0"/>
<text transform="translate(435.30,336.10) rotate(-45)" class="gl">A4461</text>
<polygon points="450.80,339.10 448.10,339.10 448.10,337.70 445.40,340.70 445.40,341.90 448.10,344.90 448.10,343.50 450.80,343.50" fill="#0000f0"/>
<text transform="translate(450.40,336.10) rotate(-45)" class="gl">A4460</text>
<polygon points="454.50,339.10 484.00,339.10 484.00,337.70 487.00,340.70 487.00,341.90 484.00,344.90 484.00,343.50 454.50,343.50" fill="#0000f0"/>
<text transform="translate(473.05,336.10) rotate(-45)" class="gl">A4459</text>
<polygon points="492.20,339.10 504.00,339.10 504.00,337.70 507.00,340.70 507.00,341.90 504.00,344.90 504.00,343.50 492.20,343.50" fill="#0000f0"/>
<text transform="translate(501.90,336.10) rotate(-45)" class="gl">A4458</text>
<polygon points="529.30,339.10 513.70,339.10 513.70,337.70 510.70,340.70 510.70,341.90 513.70,344.90 513.70,343.50 529.30,343.50" fill="#0000f0"/>
<text transform="translate(522.30,336.10) rotate(-45)" class="gl">A4457</text>
<path d="M43.6 377.6 H538.4" stroke="#a0a0a0" stroke-width="0.9"/>
<text x="15" y="379.60" class="row">M34</text>
<polygon points="76.00,375.40 56.40,375.40 56.40,374.00 53.40,377.00 53.40,378.20 56.40,381.20 56.40,379.80 76.00,379.80" fill="#0000f0"/>
<text transform="translate(67.00,372.40) rotate(-45)" class="gl">A3471</text>
<polygon points="98.00,375.40 87.00,375.40 87.00,374.00 84.00,377.00 84.00,378.20 87.00,381.20 87.00,379.80 98.00,379.80" fill="#0000f0"/>
<text transform="translate(93.30,372.40) rotate(-45)" class="gl">A3472</text>
<polygon points="127.40,375.40 131.40,375.40 131.40,374.00 134.40,377.00 134.40,378.20 131.40,381.20 131.40,379.80 127.40,379.80" fill="#0000f0"/>
<text transform="translate(133.20,372.40) rotate(-45)" class="gl">A3474</text>
<polygon points="186.00,375.40 166.00,375.40 166.00,374.00 163.00,377.00 163.00,378.20 166.00,381.20 166.00,379.80 186.00,379.80" fill="#0000f0"/>
<text transform="translate(176.80,372.40) rotate(-45)" class="gl">A3475</text>
<polygon points="215.00,375.40 201.00,375.40 201.00,374.00 198.00,377.00 198.00,378.20 201.00,381.20 201.00,379.80 215.00,379.80" fill="#0000f0"/>
<text transform="translate(208.80,372.40) rotate(-45)" class="gl">A3476</text>
<polygon points="235.00,375.40 227.00,375.40 227.00,374.00 224.00,377.00 224.00,378.20 227.00,381.20 227.00,379.80 235.00,379.80" fill="#0000f0"/>
<text transform="translate(231.80,372.40) rotate(-45)" class="gl">A3477</text>
<polygon points="259.00,375.40 274.40,375.40 274.40,374.00 277.40,377.00 277.40,378.20 274.40,381.20 274.40,379.80 259.00,379.80" fill="#0000f0"/>
<text transform="translate(270.50,372.40) rotate(-45)" class="gl">A3478</text>
<polygon points="359.40,375.40 289.00,375.40 289.00,374.00 286.00,377.00 286.00,378.20 289.00,381.20 289.00,379.80 359.40,379.80" fill="#0000f0"/>
<text transform="translate(325.00,372.40) rotate(-45)" class="gl">A3479</text>
<polygon points="386.40,375.40 379.60,375.40 379.60,374.00 376.60,377.00 376.60,378.20 379.60,381.20 379.60,379.80 386.40,379.80" fill="#0000f0"/>
<text transform="translate(383.80,372.40) rotate(-45)" class="gl">A3480</text>
<polygon points="389.00,375.40 396.60,375.40 396.60,374.00 399.60,377.00 399.60,378.20 396.60,381.20 396.60,379.80 389.00,379.80" fill="#0000f0"/>
<text transform="translate(396.60,372.40) rotate(-45)" class="gl">A3481</text>
<polygon points="417.40,375.40 407.00,375.40 407.00,374.00 404.00,377.00 404.00,378.20 407.00,381.20 407.00,379.80 417.40,379.80" fill="#0000f0"/>
<text transform="translate(413.00,372.40) rotate(-45)" class="gl">A3482</text>
<polygon points="440.60,375.40 428.40,375.40 428.40,374.00 425.40,377.00 425.40,378.20 428.40,381.20 428.40,379.80 440.60,379.80" fill="#0000f0"/>
<text transform="translate(435.30,372.40) rotate(-45)" class="gl">A3483</text>
<polygon points="450.80,375.40 448.10,375.40 448.10,374.00 445.40,377.00 445.40,378.20 448.10,381.20 448.10,379.80 450.80,379.80" fill="#0000f0"/>
<text transform="translate(450.40,372.40) rotate(-45)" class="gl">A3484</text>
<polygon points="454.50,375.40 484.00,375.40 484.00,374.00 487.00,377.00 487.00,378.20 484.00,381.20 484.00,379.80 454.50,379.80" fill="#0000f0"/>
<text transform="translate(473.05,372.40) rotate(-45)" class="gl">A3485</text>
<polygon points="492.20,375.40 504.00,375.40 504.00,374.00 507.00,377.00 507.00,378.20 504.00,381.20 504.00,379.80 492.20,379.80" fill="#0000f0"/>
<text transform="translate(501.90,372.40) rotate(-45)" class="gl">A3486</text>
<polygon points="529.30,375.40 513.70,375.40 513.70,374.00 510.70,377.00 510.70,378.20 513.70,381.20 513.70,379.80 529.30,379.80" fill="#0000f0"/>
<text transform="translate(522.30,372.40) rotate(-45)" class="gl">A3487</text>
<text x="205.4" y="166.7" class="title">MPs biosynthetic gene cluster</text>
<text x="206.8" y="283" class="title">CIT biosynthetic gene cluster</text>
<path d="M496.5 272.8 H538.5 M540.4 272.8 H542.6" stroke="#6a6a6a" stroke-width="0.9"/>
<text x="519.5" y="271.2" class="kb">5 kb</text>
<path d="M491 388.5 H542.4" stroke="#5a5a5a" stroke-width="0.9"/>
<text x="516.4" y="386.6" class="kb">5 kb</text>
<rect x="0" y="394.6" width="550" height="2.4" fill="#f3f3f3"/>
<path d="M547.5 0 V395" stroke="#f3f3f3" stroke-width="1"/>
</svg>
</body></html>
